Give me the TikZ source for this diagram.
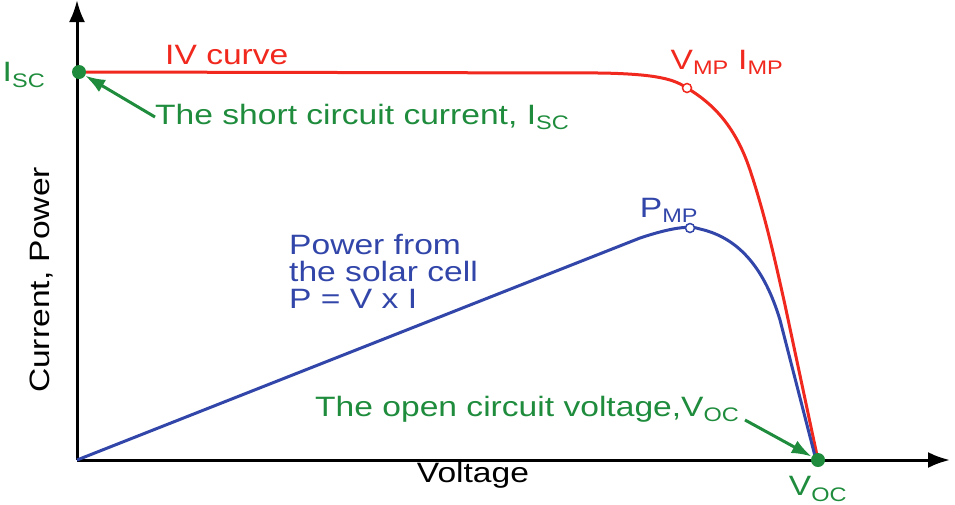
\documentclass[tikz,border=0pt]{standalone}
\usepackage{fontspec}
\setmainfont{Liberation Sans}[FakeStretch=1.2]
\usetikzlibrary{arrows.meta}
\definecolor{cred}{RGB}{240,40,30}
\definecolor{cblue}{RGB}{50,70,170}
\definecolor{cgreen}{RGB}{30,140,60}
\begin{document}
\begin{tikzpicture}[x=1pt,y=-1pt,
  lbl/.style={font=\fontsize{28}{30}\selectfont,inner sep=0pt},
  axis/.style={line width=3pt,-{Latex[length=22pt,width=16pt]}},
  garrow/.style={cgreen,line width=3pt,-{Latex[length=20pt,width=14pt]}},
  mp/.style={circle,draw,fill=white,inner sep=0pt,minimum size=9pt,line width=1.5pt},
  dot/.style={circle,fill=cgreen,inner sep=0pt,minimum width=14pt,minimum height=11pt}]
\useasboundingbox (0,0) rectangle (955,504);
\coordinate (O) at (77,460);
\coordinate (yt) at (77,0);
\coordinate (xt) at (950,460);
\draw[axis] (O) -- (yt);
\draw[axis] (O) -- (xt);
\draw[cred,line width=3pt] (79,72) -- (600,73) .. controls (660,74) and (675,80) .. (687,88)
  .. controls (712,103) and (735,125) .. (750,170) .. controls (765,215) and (775,260) .. (785,305) -- (818,460);
\draw[cblue,line width=3pt] (O) -- (640,238) .. controls (670,228) and (690,225) .. (700,229)
  .. controls (740,238) and (765,270) .. (780,320) -- (816,460);
\node[mp,draw=cred] (vmp) at (687,88) {};
\node[mp,draw=cblue] (pmp) at (690,228) {};
\node[dot] (isc) at (79,72) {};
\node[dot] (voc) at (818,460) {};
\node[lbl,cgreen] (isclbl) at (24,75) {I\textsubscript{SC}};
\node[lbl,cred,anchor=west] (iv) at (165,55) {IV curve};
\node[lbl,cred] (vmplbl) at (727,62) {V\textsubscript{MP} I\textsubscript{MP}};
\node[lbl,cblue] (pmplbl) at (669,210) {P\textsubscript{MP}};
\node[lbl,cblue,anchor=north west,align=left,font=\fontsize{28}{27}\selectfont] (pw) at (289,234) {Power from\\the solar cell\\P = V x I};
\node[lbl,cgreen,anchor=west] (sc) at (155,117) {The short circuit current, I\textsubscript{SC}};
\node[lbl,cgreen,anchor=west] (oc) at (315,409) {The open circuit voltage,V\textsubscript{OC}};
\node[lbl,cgreen] (voclbl) at (818,489) {V\textsubscript{OC}};
\node[lbl] (volt) at (473,475) {Voltage};
\node[lbl,rotate=90] (cp) at (42,280) {Current, Power};
\draw[garrow] (sc.west) -- (isc);
\draw[garrow] (745,420) -- (voc);
\end{tikzpicture}
\end{document}
